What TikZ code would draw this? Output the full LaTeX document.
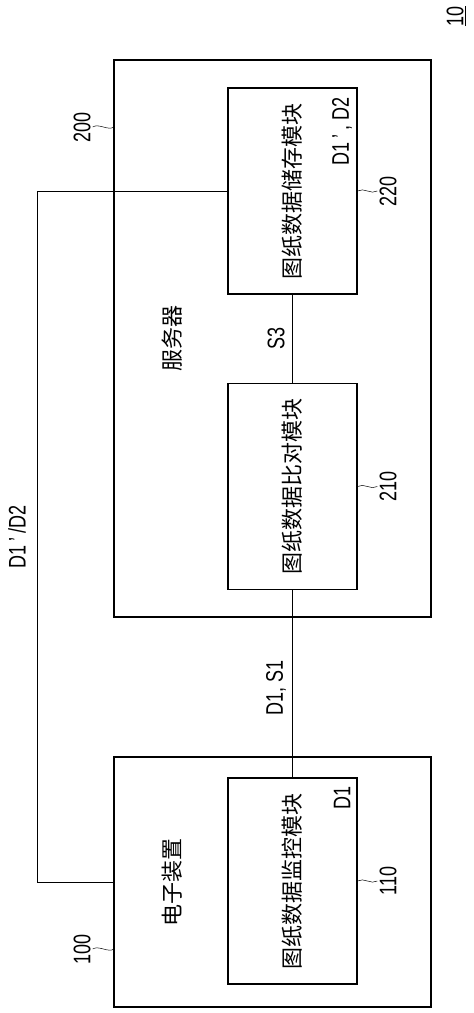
\documentclass[tikz,border=0pt]{standalone}
\usepackage{fontspec}
\setmainfont[FakeStretch=0.75]{Liberation Sans}
\newfontfamily\cjk{Noto Sans CJK SC}
\usetikzlibrary{positioning}
\tikzset{
outer/.style={draw, line width=1.2pt, minimum width=317pt, inner sep=0}, module/.style={draw, line width=1.2pt, minimum width=129pt, minimum height=206pt, inner sep=0}, zh/.style={rotate=90, font=\cjk\fontsize{22}{22}\selectfont, inner sep=1pt}, tag/.style={rotate=90, font=\fontsize{24}{24}\selectfont, inner sep=2pt}, leader/.style={line width=0.5pt}, wire/.style={line width=0.8pt}}

\begin{document}
\begin{tikzpicture}[x=1pt, y=-1pt]
\useasboundingbox (0,0) rectangle (474,1013);
\node [outer, minimum height=557pt] (srv) at (272.5, 338.5) {};
\node [outer, minimum height=250pt] (dev) at (272.5, 882) {};
\foreach \num/\ypos/\name in {220/191/图纸数据储存模块, 210/486.5/图纸数据比对模块, 110/881/图纸数据监控模块}{
      \node [module] (m-\num) at (292.5, \ypos) {};
      \node [zh] (t-\num) at (m-\num) {\name};
      \coordinate (e-\num) at (m-\num.east);
      \node [tag] (n-\num) at (388, \ypos) {\num};
      \draw [leader] (e-\num) .. controls +(6,-4) and +(-6,4) .. (n-\num.north);
}
\node [zh] (t-srv) at (172, 338) {服务器};
\node [zh] (t-dev) at (172, 882) {电子装置};
\node [tag] (d-220) at (342, 131) {D1\,’\,, D2};
\node [tag] (d-110) at (342, 798) {D1};
\draw [wire] (m-220) -- (m-210);
\draw [wire] (m-210) -- (m-110);
\node [tag] (s3) at (276, 338) {S3};
\node [tag] (s1) at (276, 688) {D1, S1};
\coordinate (bend) at (37, 191);
\draw [wire] (m-220.west) -- (bend) |- (dev.west);
\node [tag] (d2) at (17, 537) {D1\,’\,/D2};
\node [tag] (n-200) at (82, 127) {200};
\coordinate (e-200) at (114, 127);
\draw [leader] (n-200.south) .. controls +(6,-4) and +(-6,4) .. (e-200);
\node [tag] (n-100) at (82, 949) {100};
\coordinate (e-100) at (114, 949);
\draw [leader] (n-100.south) .. controls +(6,-4) and +(-6,4) .. (e-100);
\node [tag] (n-10) at (456, 16) {\underline{10}};
\end{tikzpicture}
\end{document}
